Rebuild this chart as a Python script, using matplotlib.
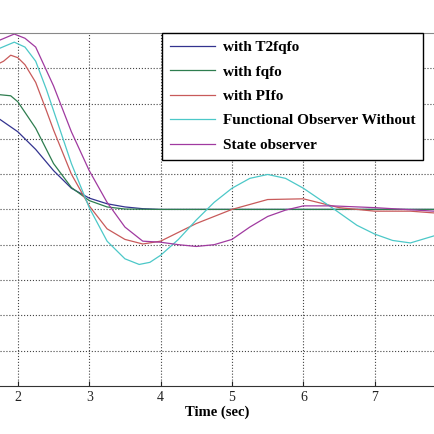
import matplotlib.pyplot as plt

# ========== DATA ==========
T_BLUE = [1.75, 2.0, 2.25, 2.5, 2.75, 3.0, 3.25, 3.5, 3.75, 4.0, 5.0, 6.0, 7.0, 7.83]
Y_BLUE = [2.55, 2.2, 1.7, 1.1, 0.6, 0.32, 0.16, 0.07, 0.02, 0.0, 0.0, 0.0, 0.0, 0.0]

T_GREEN = [1.75, 1.9, 2.0, 2.25, 2.5, 2.75, 3.0, 3.25, 3.5, 4.0, 5.0, 6.0, 7.0, 7.83]
Y_GREEN = [3.25, 3.22, 3.05, 2.3, 1.3, 0.62, 0.25, 0.07, 0.01, 0.0, 0.0, 0.0, 0.0, 0.0]

T_RED = [1.75, 1.8, 1.9, 2.0, 2.1, 2.25, 2.4, 2.5, 2.75, 3.0, 3.25, 3.5, 3.75, 4.0, 4.25, 4.5, 5.0, 5.5, 6.0, 6.5, 7.0, 7.5, 7.83]
Y_RED = [4.15, 4.2, 4.37, 4.3, 4.1, 3.6, 2.8, 2.25, 1.0, 0.1, -0.55, -0.85, -0.98, -0.9, -0.65, -0.4, 0.0, 0.28, 0.3, 0.05, -0.05, -0.05, -0.1]

T_CYAN = [1.75, 1.95, 2.1, 2.25, 2.4, 2.5, 2.75, 3.0, 3.25, 3.5, 3.7, 3.85, 4.0, 4.25, 4.5, 4.75, 5.0, 5.25, 5.5, 5.75, 6.0, 6.4, 6.75, 7.0, 7.25, 7.5, 7.83]
Y_CYAN = [4.57, 4.74, 4.6, 4.2, 3.4, 2.8, 1.3, 0.05, -0.9, -1.4, -1.56, -1.5, -1.3, -0.85, -0.3, 0.2, 0.6, 0.88, 0.99, 0.88, 0.6, 0.05, -0.45, -0.7, -0.88, -0.95, -0.75]

T_MAG = [1.75, 1.95, 2.1, 2.25, 2.5, 2.75, 3.0, 3.25, 3.5, 3.75, 4.0, 4.25, 4.5, 4.75, 5.0, 5.25, 5.5, 5.75, 6.0, 6.4, 7.0, 7.83]
Y_MAG = [4.8, 4.97, 4.85, 4.6, 3.5, 2.2, 1.1, 0.2, -0.5, -0.9, -0.93, -1.0, -1.05, -1.0, -0.85, -0.5, -0.2, -0.02, 0.1, 0.1, 0.05, -0.05]

LABELS = ['with T2fqfo', 'with fqfo', 'with PIfo',
          'Functional Observer Without', 'State observer']
COLORS = ['#33338f', '#2e7d4f', '#c85a5a', '#4cc8c8', '#a03aa0']
X_TICKS = [2, 3, 4, 5, 6, 7]

# ========== PLOT ==========
fig = plt.figure(figsize=(4.34, 4.34), dpi=100)
ax = fig.add_axes([0.0, 0.111, 1.0, 0.813])

series = [(T_BLUE, Y_BLUE), (T_GREEN, Y_GREEN), (T_RED, Y_RED), (T_CYAN, Y_CYAN), (T_MAG, Y_MAG)]
for (t, y), lab, col in zip(series, LABELS, COLORS):
    ax.plot(t, y, color=col, lw=0.9, label=lab)

ax.set_xlim(1.75, 7.83)
ax.set_ylim(-5, 5)
ax.set_xticks(X_TICKS)
ax.set_yticks(range(-4, 5))
ax.tick_params(axis='y', left=False, labelleft=False)
ax.tick_params(axis='x', direction='in', labelsize=10, colors='#222222')
for lab in ax.get_xticklabels():
    lab.set_family('Liberation Serif')
ax.grid(True, color='#444444', linestyle=':', linewidth=0.8)
ax.spines['left'].set_visible(False)
ax.spines['right'].set_visible(False)
ax.spines['top'].set_color('#888888')
ax.spines['bottom'].set_color('#333333')

ax.set_xlabel('Time (sec)', fontsize=10.5, fontweight='bold', family='Liberation Serif', labelpad=1)

leg = ax.legend(loc='upper left', bbox_to_anchor=(0.373, 1.0), borderaxespad=0,
                fancybox=False, framealpha=1, edgecolor='black', handlelength=3.0,
                labelspacing=0.7, borderpad=0.5, handletextpad=0.5,
                prop={'family': 'Liberation Serif', 'weight': 'bold', 'size': 11})
leg.get_frame().set_linewidth(1.0)

fig.savefig('out.png', dpi=100)
